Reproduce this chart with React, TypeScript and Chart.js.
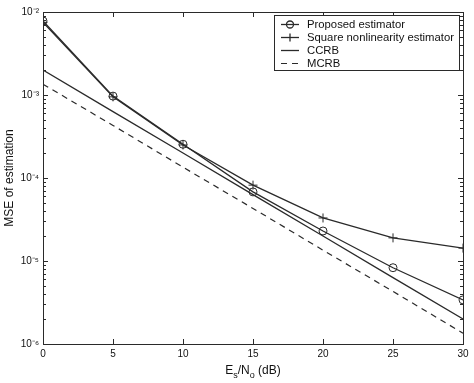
import React, { useEffect, useRef } from 'react';
import { Chart, registerables } from 'chart.js';
Chart.register(...registerables);

const snrDb = [0, 5, 10, 15, 20, 25, 30];
const proposedMse = [7.8e-3, 9.7e-4, 2.55e-4, 6.8e-5, 2.3e-5, 8.3e-6, 3.4e-6];
const squareMse = [7.5e-3, 9.5e-4, 2.5e-4, 8.2e-5, 3.3e-5, 1.9e-5, 1.43e-5];
const ccrbMse = [2.0e-3, 6.3e-4, 2.0e-4, 6.3e-5, 2.0e-5, 6.3e-6, 2.0e-6];
const mcrbMse = [1.35e-3, 4.3e-4, 1.35e-4, 4.3e-5, 1.35e-5, 4.3e-6, 1.35e-6];
const seriesLabels = ['Proposed estimator', 'Square nonlinearity estimator', 'CCRB', 'MCRB'];
const xTickValues = [0, 5, 10, 15, 20, 25, 30];
const yDecadeExps = [-6, -5, -4, -3, -2];
const yDecadeLabels = ['10⁻⁶', '10⁻⁵', '10⁻⁴', '10⁻³', '10⁻²'];
const xTitleParts = ['E', 's', '/N', 'o', ' (dB)'];
const yTitle = 'MSE of estimation';

const INK = '#2a2a2a';
const FONT = "'Liberation Sans', Arial, sans-serif";

function isDecade(v: number) {
  const l = Math.log10(v);
  return Math.abs(l - Math.round(l)) < 1e-6;
}

const framePlugin = {
  id: 'frameTicks',
  afterDraw(chart: any) {
    const { ctx, chartArea: a, scales } = chart;
    const xs = scales.x, ys = scales.y;
    ctx.save();
    ctx.strokeStyle = INK;
    ctx.lineWidth = 1;
    ctx.strokeRect(Math.round(a.left) + 0.5, Math.round(a.top) + 0.5, Math.round(a.right - a.left), Math.round(a.bottom - a.top));
    ctx.beginPath();
    for (const t of xs.ticks) {
      const px = Math.round(xs.getPixelForValue(t.value)) + 0.5;
      ctx.moveTo(px, a.bottom); ctx.lineTo(px, a.bottom - 5);
      ctx.moveTo(px, a.top); ctx.lineTo(px, a.top + 5);
    }
    for (const t of ys.ticks) {
      const py = Math.round(ys.getPixelForValue(t.value)) + 0.5;
      const len = isDecade(t.value) ? 5 : 3;
      ctx.moveTo(a.left, py); ctx.lineTo(a.left + len, py);
      ctx.moveTo(a.right, py); ctx.lineTo(a.right - len, py);
    }
    ctx.stroke();

    // x title with subscripts
    const big = '12px ' + FONT, small = '9px ' + FONT;
    const widths = xTitleParts.map((p, i) => {
      ctx.font = i % 2 === 1 ? small : big;
      return ctx.measureText(p).width;
    });
    const total = widths.reduce((s, w) => s + w, 0);
    let x = (a.left + a.right) / 2 - total / 2;
    const baseY = 374;
    ctx.fillStyle = '#111';
    ctx.textBaseline = 'alphabetic';
    ctx.textAlign = 'left';
    xTitleParts.forEach((p, i) => {
      ctx.font = i % 2 === 1 ? small : big;
      ctx.fillText(p, x, i % 2 === 1 ? baseY + 4 : baseY);
      x += widths[i];
    });

    // legend
    const bx = 274, by = 15, bw = 185, bh = 55;
    ctx.fillStyle = '#fff';
    ctx.fillRect(bx, by, bw, bh);
    ctx.strokeStyle = INK;
    ctx.strokeRect(bx + 0.5, by + 0.5, bw, bh);
    chart.data.datasets.forEach((ds: any, i: number) => {
      const cy = by + 9.5 + i * 13;
      ctx.strokeStyle = ds.borderColor;
      ctx.lineWidth = ds.borderWidth;
      ctx.setLineDash(ds.borderDash || []);
      ctx.beginPath();
      ctx.moveTo(bx + 7, cy); ctx.lineTo(bx + 25, cy);
      ctx.stroke();
      ctx.setLineDash([]);
      const mx = bx + 16;
      if (ds.pointStyle === 'circle') {
        ctx.beginPath();
        ctx.arc(mx, cy, 3.5, 0, Math.PI * 2);
        ctx.stroke();
      } else if (ds.pointStyle === 'cross') {
        ctx.beginPath();
        ctx.moveTo(mx, cy - 4); ctx.lineTo(mx, cy + 4);
        ctx.stroke();
      }
      ctx.fillStyle = '#111';
      ctx.font = '11.3px ' + FONT;
      ctx.textBaseline = 'middle';
      ctx.fillText(ds.label, bx + 33, cy + 0.5);
    });
    ctx.restore();
  },
};

export default function App() {
  const ref = useRef<HTMLCanvasElement>(null);
  useEffect(() => {
    const mk = (vals: number[]) => snrDb.map((x, i) => ({ x, y: vals[i] }));
    const chart = new Chart(ref.current!, {
      type: 'line',
      data: {
        datasets: [
          { label: seriesLabels[0], data: mk(proposedMse), borderColor: INK, borderWidth: 1.3, pointStyle: 'circle', pointRadius: 4, pointBorderWidth: 1, pointBackgroundColor: 'rgba(0,0,0,0)', pointBorderColor: INK },
          { label: seriesLabels[1], data: mk(squareMse), borderColor: INK, borderWidth: 1.3, pointStyle: 'cross', pointRadius: 4.5, pointBorderWidth: 1, pointBorderColor: INK },
          { label: seriesLabels[2], data: mk(ccrbMse), borderColor: INK, borderWidth: 1.3, pointRadius: 0 },
          { label: seriesLabels[3], data: mk(mcrbMse), borderColor: INK, borderWidth: 1.2, borderDash: [6, 5], pointRadius: 0 },
        ] as any,
      },
      options: {
        animation: false,
        responsive: false,
        maintainAspectRatio: false,
        layout: { padding: { top: 12, right: 11, left: 2, bottom: 0 } },
        plugins: { legend: { display: false }, tooltip: { enabled: false } },
        scales: {
          x: {
            type: 'linear', min: 0, max: 30,
            afterBuildTicks: (s: any) => { s.ticks = xTickValues.map((v) => ({ value: v })); },
            afterFit: (s: any) => { s.height = 39; },
            grid: { display: false, drawTicks: false },
            border: { display: false },
            ticks: { color: '#111', font: { family: FONT, size: 10 }, padding: 4, autoSkip: false, maxRotation: 0, callback: (v: any) => String(v) },
          },
          y: {
            type: 'logarithmic', min: 1e-6, max: 1e-2,
            afterBuildTicks: (s: any) => {
              const t: any[] = [];
              for (let e = -6; e < -2; e++) for (let m = 1; m <= 9; m++) t.push({ value: m * Math.pow(10, e) });
              t.push({ value: 1e-2 });
              s.ticks = t;
            },
            afterFit: (s: any) => { s.width = 41; },
            grid: { display: false, drawTicks: false },
            border: { display: false },
            title: { display: true, text: yTitle, color: '#111', font: { family: FONT, size: 12 }, padding: { top: 0, bottom: 0 } },
            ticks: {
              color: '#111', font: { family: FONT, size: 10 }, padding: 4, autoSkip: false,
              callback: (v: any) => {
                const val = Number(v);
                if (!isDecade(val)) return '';
                const e = Math.round(Math.log10(val));
                const idx = yDecadeExps.indexOf(e);
                return idx >= 0 ? yDecadeLabels[idx] : '';
              },
            },
          },
        },
      },
      plugins: [framePlugin],
    });
    return () => chart.destroy();
  }, []);
  return (
    <div style={{ position: 'fixed', left: 0, top: 0, width: 474, height: 383, background: '#fff' }}>
      <canvas ref={ref} width={474} height={383} style={{ width: 474, height: 383 }} />
    </div>
  );
}
